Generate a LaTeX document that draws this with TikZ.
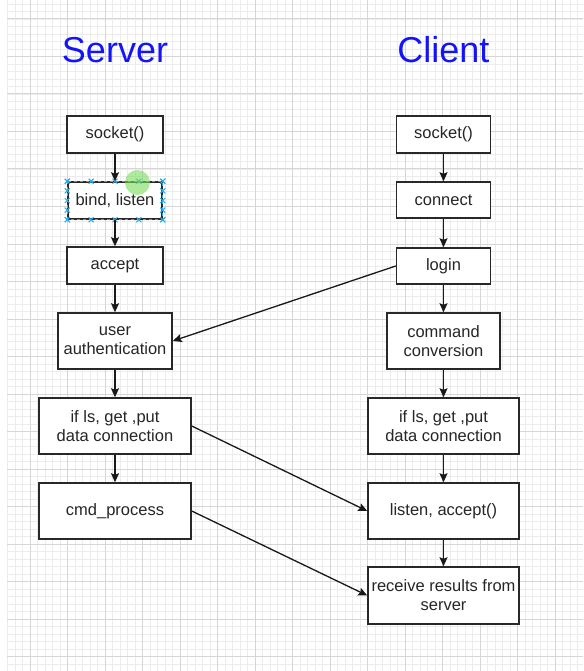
\documentclass[tikz,border=0pt]{standalone}
\usepackage{fontspec}
\setmainfont{Liberation Sans}
\usetikzlibrary{arrows.meta,calc}
\definecolor{minorgrid}{RGB}{236,236,236}
\definecolor{majorgrid}{RGB}{214,214,214}
\definecolor{titleblue}{RGB}{20,20,250}
\definecolor{boxline}{RGB}{40,40,40}
\definecolor{handleblue}{RGB}{40,170,235}
\definecolor{hovergreen}{RGB}{120,220,90}
\tikzset{
  box/.style={draw=boxline, line width=1.5pt, fill=white, align=center, inner sep=1pt,
    font=\fontsize{16.5}{19}\selectfont, text=black!85},
  flow/.style={draw=black!90, line width=1.3pt, -{Stealth[length=9pt,width=8pt,inset=1.5pt]}},
  title/.style={font=\fontsize{36}{40}\selectfont, text=titleblue, anchor=base, inner sep=0pt},
  handle/.style={draw=handleblue, line width=1pt},
}
\begin{document}
\begin{tikzpicture}[x=1pt,y=-1pt]
\useasboundingbox (0,0) rectangle (583,671);
\fill[white] (0,0) rectangle (583,671);
% grid
\foreach \i in {0,...,77} \draw[minorgrid, line width=0.8pt] ({7.5+7.5*\i},0) -- ({7.5+7.5*\i},671);
\foreach \i in {0,...,89} \draw[minorgrid, line width=0.8pt] (7,{4+7.5*\i}) -- (583,{4+7.5*\i});
\foreach \i in {0,...,14} \draw[majorgrid, line width=1pt] ({30+37.5*\i},0) -- ({30+37.5*\i},671);
\foreach \i in {0,...,17} \draw[majorgrid, line width=1pt] (7,{19+37.5*\i}) -- (583,{19+37.5*\i});

% titles
\node[title] (tserver) at (115,63) {Server};
\node[title] (tclient) at (443.5,63) {Client};

% server column
\node[box, minimum width=96pt, minimum height=37pt] (ss) at (115,134.5) {socket()};
\node[box, minimum width=94pt, minimum height=37pt] (sb) at (115,200.5) {bind, listen};
\node[box, minimum width=96pt, minimum height=37pt] (sa) at (115,265.5) {accept};
\node[box, minimum width=114pt, minimum height=56pt] (su) at (115,341) {user\\authentication};
\node[box, minimum width=152pt, minimum height=56pt] (sd) at (115,426) {if ls, get ,put\\data connection};
\node[box, minimum width=152pt, minimum height=56pt] (sc) at (115,511) {cmd\_process};

% client column
\node[box, minimum width=94pt, minimum height=37pt] (cs) at (443.5,134.5) {socket()};
\node[box, minimum width=94pt, minimum height=36pt] (cc) at (443.5,200) {connect};
\node[box, minimum width=94pt, minimum height=36pt] (cl) at (443.5,266) {login};
\node[box, minimum width=113pt, minimum height=56pt] (cm) at (443.5,341) {command\\conversion};
\node[box, minimum width=151pt, minimum height=56pt] (cd) at (443.5,426) {if ls, get ,put\\data connection};
\node[box, minimum width=151pt, minimum height=56pt] (ca) at (443.5,511) {listen, accept()};
\node[box, minimum width=151pt, minimum height=57pt] (cr) at (443.5,595.5) {receive results from\\server};

% selection decoration on bind, listen
\draw[handleblue, line width=1pt, dash pattern=on 3pt off 3pt] (sb.north west) rectangle (sb.south east);
\foreach \t in {0,0.25,0.5,0.75,1} {
  \path (sb.north west) -- (sb.north east) coordinate[pos=\t] (ht);
  \draw[handle] ($(ht)+(-2.5,-2.5)$) -- ++(5,5) ($(ht)+(-2.5,2.5)$) -- ++(5,-5);
  \path (sb.south west) -- (sb.south east) coordinate[pos=\t] (hb);
  \draw[handle] ($(hb)+(-2.5,-2.5)$) -- ++(5,5) ($(hb)+(-2.5,2.5)$) -- ++(5,-5);
  \path (sb.north west) -- (sb.south west) coordinate[pos=\t] (hl);
  \draw[handle] ($(hl)+(-2.5,-2.5)$) -- ++(5,5) ($(hl)+(-2.5,2.5)$) -- ++(5,-5);
  \path (sb.north east) -- (sb.south east) coordinate[pos=\t] (hr);
  \draw[handle] ($(hr)+(-2.5,-2.5)$) -- ++(5,5) ($(hr)+(-2.5,2.5)$) -- ++(5,-5);
}
\fill[hovergreen, opacity=0.6] (137.5,182.5) circle (12.5);

% server flow
\draw[flow] (ss) -- (sb);
\draw[flow] (sb) -- (sa);
\draw[flow] (sa) -- (su);
\draw[flow] (su) -- (sd);
\draw[flow] (sd) -- (sc);

% client flow
\draw[flow] (cs) -- (cc);
\draw[flow] (cc) -- (cl);
\draw[flow] (cl) -- (cm);
\draw[flow] (cm) -- (cd);
\draw[flow] (cd) -- (ca);
\draw[flow] (ca) -- (cr);

% cross connections
\draw[flow] (cl.west) -- (su.east);
\draw[flow] (sd.east) -- (ca.west);
\draw[flow] (sc.east) -- (cr.west);
\end{tikzpicture}
\end{document}
